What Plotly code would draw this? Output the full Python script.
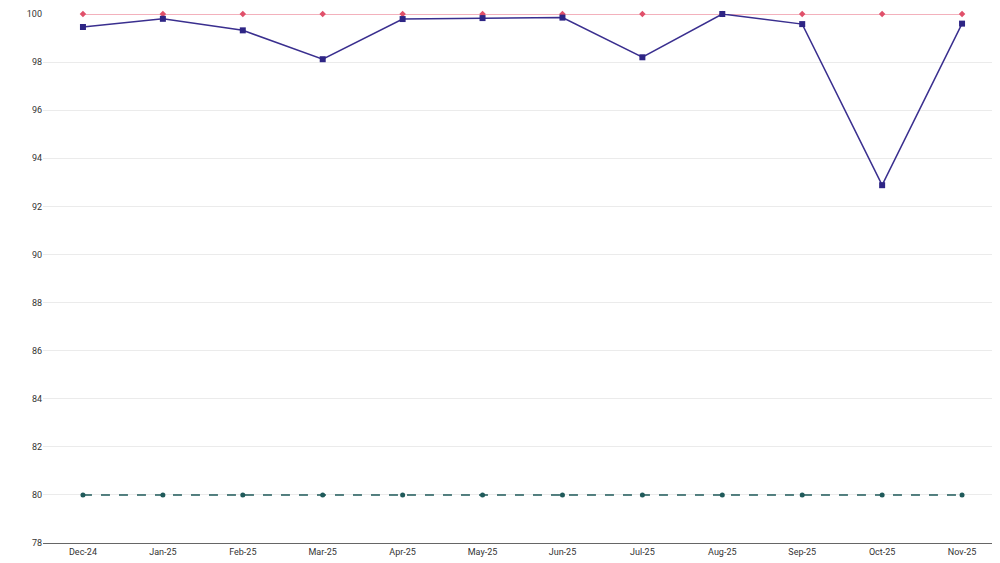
import plotly.graph_objects as go

months = ["Dec-24","Jan-25","Feb-25","Mar-25","Apr-25","May-25","Jun-25","Jul-25","Aug-25","Sep-25","Oct-25","Nov-25"]
actual = [99.46, 99.8, 99.32, 98.12, 99.79, 99.83, 99.85, 98.2, 100.0, 99.58, 92.88, 99.6]
target = [100]*12
minimum = [80]*12

fig = go.Figure()
fig.add_trace(go.Scatter(x=months, y=minimum, mode="lines+markers", cliponaxis=False,
    line=dict(color="#1f5a5a", width=1.5, dash="dash"), marker=dict(symbol="circle", size=5, color="#1f5a5a")))
fig.add_trace(go.Scatter(x=months, y=target, mode="lines+markers", cliponaxis=False,
    line=dict(color="#e8647a", width=1), marker=dict(symbol="diamond", size=5, color="#e0506a")))
fig.add_trace(go.Scatter(x=months, y=actual, mode="lines+markers", cliponaxis=False,
    line=dict(color="#3a2f8f", width=1.5), marker=dict(symbol="square", size=6, color="#2e2585")))

fig.update_layout(width=1000, height=563, showlegend=False, plot_bgcolor="white", paper_bgcolor="white",
    margin=dict(l=35, r=6, t=6, b=28, autoexpand=False), font=dict(family="Roboto", size=9, color="#333"))
fig.update_xaxes(type="category", showgrid=False, showline=True, linecolor="#666", linewidth=1,
    ticks="", range=[-0.5, 11.5], automargin=False)
fig.update_yaxes(range=[78, 100], dtick=2, gridcolor="#ebebeb", zeroline=False, showline=False, ticks="",
    automargin=False)
fig.write_html("out.html")
